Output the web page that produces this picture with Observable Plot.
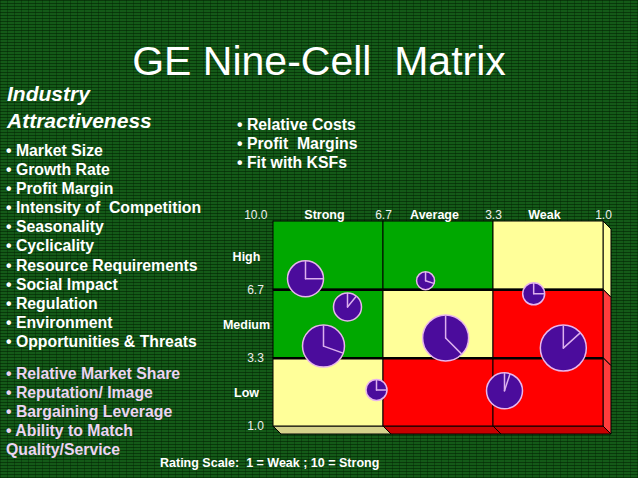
<!DOCTYPE html>
<html>
<head>
<meta charset="utf-8">
<script src="https://cdn.jsdelivr.net/npm/d3@7"></script>
<script src="https://cdn.jsdelivr.net/npm/@observablehq/plot@0.6"></script>
<style>
  html, body { margin: 0; padding: 0; }
  body {
    width: 638px; height: 478px; overflow: hidden; position: relative;
    font-family: "Liberation Sans", Arial, sans-serif;
    background-color: #145a18;
    background-image:
      repeating-linear-gradient(0deg, rgba(0,30,0,0.55) 0 1px, transparent 1px 3px),
      repeating-linear-gradient(90deg, rgba(0,30,0,0.35) 0 1px, transparent 1px 7px);
  }
  .abs { position: absolute; white-space: pre; }
  #title { left: 0; width: 638px; top: 42px; text-align: center; color: #fff; font-size: 41px; line-height: 39px; }
  #head { left: 7px; top: 80px; color: #fff; font-size: 21px; font-weight: bold; font-style: italic; line-height: 27px; }
  .list { color: #fff; font-size: 15.8px; font-weight: bold; line-height: 19.1px; }
  #list1 { left: 6px; top: 141px; }
  #list2 { left: 6px; top: 364px; color: #ecd4f3; }
  #list3 { left: 237px; top: 115px; }
  #caption { left: 160px; top: 455px; color: #fff; font-size: 12.5px; font-weight: bold; line-height: 16px; }
  #chart { position: absolute; left: 205px; top: 195px; }
</style>
</head>
<body>
<div id="title" class="abs">GE Nine-Cell  Matrix</div>
<div id="head" class="abs">Industry
Attractiveness</div>
<div id="list1" class="abs list"></div>
<div id="list2" class="abs list"></div>
<div id="list3" class="abs list"></div>
<div id="caption" class="abs">Rating Scale:  1 = Weak ; 10 = Strong</div>
<div id="chart"></div>
<script>
// ---- texts ----
const industryFactors = ["Market Size", "Growth Rate", "Profit Margin", "Intensity of  Competition",
  "Seasonality", "Cyclicality", "Resource Requirements", "Social Impact", "Regulation",
  "Environment", "Opportunities & Threats"];
const strengthFactors = ["Relative Market Share", "Reputation/ Image", "Bargaining Leverage",
  "Ability to Match\nQuality/Service"];
const costFactors = ["Relative Costs", "Profit  Margins", "Fit with KSFs"];

// ---- axes ----
const strengthTicks = [10, 6.7, 3.3, 1];     // business strength (left → right)
const attractTicks = [10, 6.7, 3.3, 1];      // industry attractiveness (top → bottom)
const strengthBands = ["Strong", "Average", "Weak"];
const attractBands = ["High", "Medium", "Low"];
// zone per cell, rows High→Low, columns Strong→Weak
const cellZones = [
  ["invest", "invest", "hold"],
  ["invest", "hold", "harvest"],
  ["hold", "harvest", "harvest"]
];
const zoneNames = ["invest", "hold", "harvest"];

// ---- business units ----
const unitStrength = [9.04, 7.78, 8.5, 6.91, 5.4, 4.78, 2.46, 1.84, 3.07];
const unitAttract  = [7.23, 5.85, 3.9, 2.23, 7.14, 4.3, 6.5, 3.8, 2.2];
const unitSize     = [324, 196, 441, 110, 81, 529, 121, 529, 324];
const unitShare    = [0.25, 0.11, 0.305, 0.25, 0.30, 0.375, 0.25, 0.133, 0.05];

document.getElementById("list1").textContent = industryFactors.map(d => "• " + d).join("\n");
document.getElementById("list2").textContent = strengthFactors.map(d => "• " + d).join("\n");
document.getElementById("list3").textContent = costFactors.map(d => "• " + d).join("\n");

const cells = [];
attractBands.forEach((a, j) => strengthBands.forEach((s, i) => cells.push({
  x1: strengthTicks[i], x2: strengthTicks[i + 1],
  y1: attractTicks[j], y2: attractTicks[j + 1],
  zone: cellZones[j][i]
})));
const units = unitStrength.map((x, i) => ({x, y: unitAttract[i], size: unitSize[i], share: unitShare[i]}));
const maxSize = d3.max(unitSize);

const hand = {draw(context, l) { context.moveTo(0, 0); context.lineTo(0, -l); }};

const W = 433, H = 283, mL = 68, mR = 35, mT = 26, mB = 52;
// equal-width bands: piecewise linear scales
const xRange = d3.quantize(d3.interpolateNumber(mL, W - mR), strengthTicks.length);
const yRange = d3.quantize(d3.interpolateNumber(mT, H - mB), attractTicks.length);

const plot = Plot.plot({
  width: W, height: H,
  marginLeft: mL, marginRight: mR, marginTop: mT, marginBottom: mB,
  style: {background: "transparent", color: "#fff", fontFamily: "Liberation Sans, Arial, sans-serif"},
  x: {type: "linear", domain: strengthTicks, range: xRange, axis: null},
  y: {type: "linear", domain: attractTicks, range: yRange, axis: null},
  color: {domain: zoneNames, range: ["#00a800", "#ffff99", "#ff0000"]},
  r: {type: "sqrt", domain: [0, maxSize], range: [0, 23]},
  length: {type: "sqrt", domain: [0, maxSize], range: [0, 22]},
  marks: [
    Plot.rect(cells, {x1: "x1", x2: "x2", y1: "y1", y2: "y2", fill: "zone", stroke: "#000", strokeWidth: 1}),
    Plot.ruleY(attractTicks.slice(1, 3), {x1: strengthTicks[0], x2: strengthTicks[3], stroke: "#000", strokeWidth: 2.5}),
    Plot.dot(units, {x: "x", y: "y", r: "size", fill: "#4b0c9c", stroke: "#e8b6ec", strokeWidth: 1.5, sort: null}),
    Plot.vector(units, {x: "x", y: "y", length: "size", rotate: 0, anchor: "start", shape: hand, stroke: "#dcb0ee", strokeWidth: 1.5}),
    Plot.vector(units, {x: "x", y: "y", length: "size", rotate: d => d.share * 360, anchor: "start", shape: hand, stroke: "#dcb0ee", strokeWidth: 1.5}),
    // top labels
    Plot.text([strengthTicks[0]], {x: d => d, frameAnchor: "top", dy: -11, textAnchor: "end", dx: -6, text: d => d.toFixed(1), fill: "#eee", fontSize: 12}),
    Plot.text(strengthTicks.slice(1), {x: d => d, frameAnchor: "top", dy: -11, text: d => d.toFixed(1), fill: "#eee", fontSize: 12}),
    Plot.text(strengthBands, {x: (d, i) => (strengthTicks[i] + strengthTicks[i + 1]) / 2, frameAnchor: "top", dy: -11, dx: -4, text: d => d, fill: "#fff", fontSize: 12.5, fontWeight: "bold"}),
    // left labels
    Plot.text(attractTicks.slice(1), {y: d => d, frameAnchor: "left", textAnchor: "middle", dx: -18, text: d => d.toFixed(1), fill: "#eee", fontSize: 12}),
    Plot.text(attractBands, {y: (d, i) => (attractTicks[i] + attractTicks[i + 1]) / 2, frameAnchor: "left", textAnchor: "middle", dx: -27, dy: 1, text: d => d, fill: "#fff", fontSize: 12.5, fontWeight: "bold"})
  ]
});

// 3D extrusion faces (bottom and right), positioned through the plot's scales
const sx = plot.scale("x"), sy = plot.scale("y");
const depth = 8;
const bottomShade = {invest: "#008000", hold: "#d6d38c", harvest: "#c80000"};
const sideShade = {invest: "#00c000", hold: "#ffffa0", harvest: "#ff3c3c"};
const faces = [];
strengthBands.forEach((s, i) => {
  const xa = sx.apply(strengthTicks[i]), xb = sx.apply(strengthTicks[i + 1]), yb = sy.apply(attractTicks[3]);
  faces.push({pts: [[xa, yb], [xb, yb], [xb + depth, yb + depth], [xa + depth, yb + depth]], fill: bottomShade[cellZones[2][i]]});
});
attractBands.forEach((a, j) => {
  const xr = sx.apply(strengthTicks[3]), ya = sy.apply(attractTicks[j]), yb = sy.apply(attractTicks[j + 1]);
  faces.push({pts: [[xr, ya], [xr + depth, ya + depth], [xr + depth, yb + depth], [xr, yb]], fill: sideShade[cellZones[j][2]]});
});
const svg = d3.select(plot);
const g = svg.insert("g", "g");
g.selectAll("polygon").data(faces).join("polygon")
  .attr("points", d => d.pts.map(p => p.join(",")).join(" "))
  .attr("fill", d => d.fill).attr("stroke", "#000").attr("stroke-width", 1);

document.getElementById("chart").appendChild(plot);
</script>
</body>
</html>
